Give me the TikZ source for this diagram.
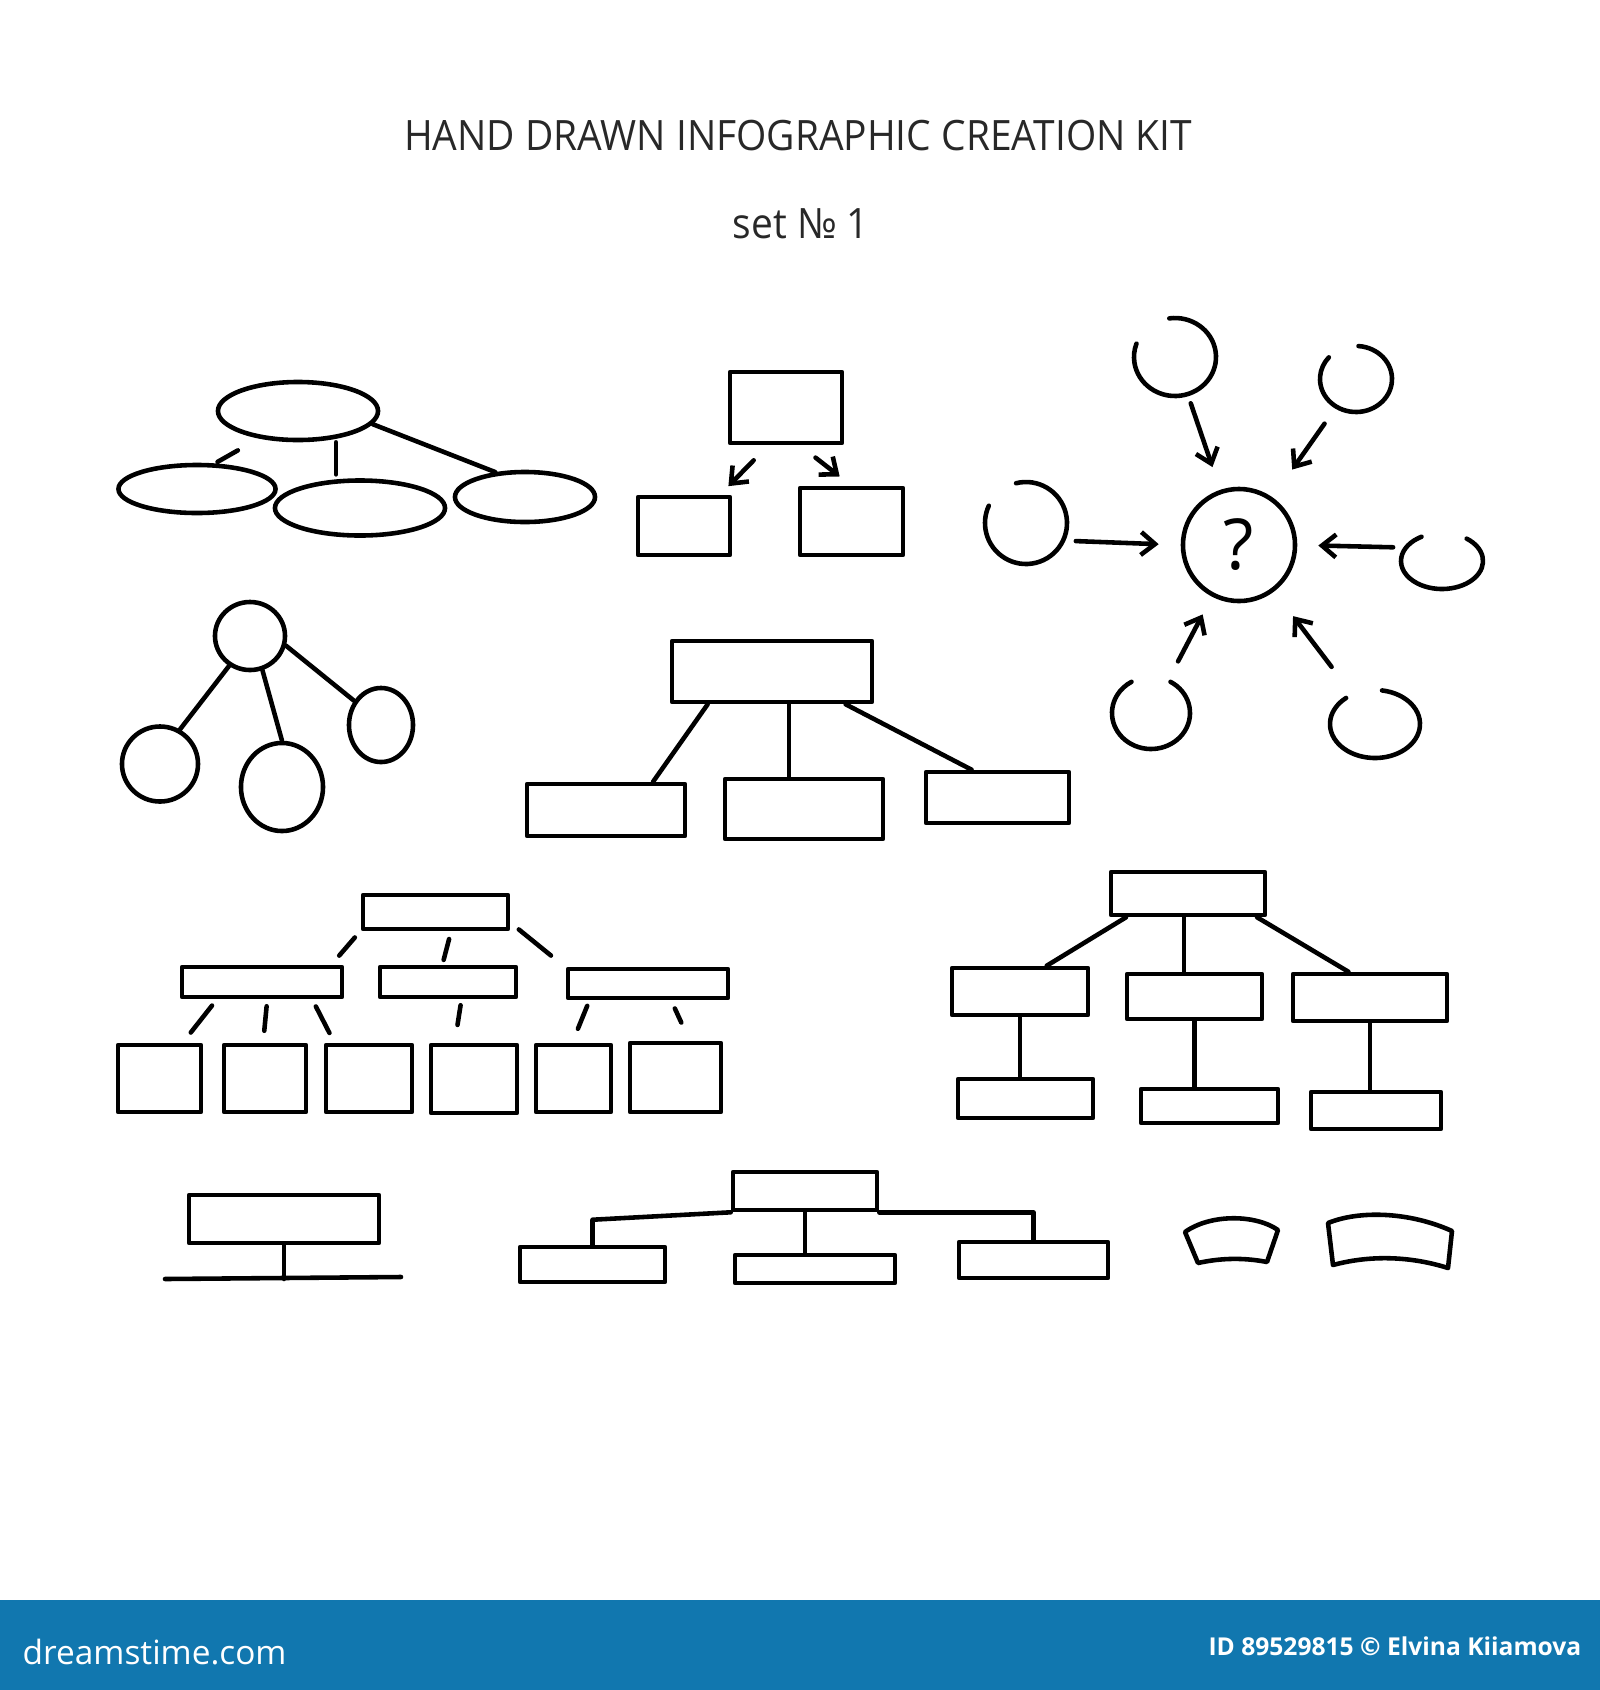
\documentclass[tikz,border=0pt]{standalone}
\usepackage{fontspec}
\setmainfont{Open Sans}
\newfontfamily\kitfont[FakeStretch=0.93]{Open Sans}
\usepackage{tikz}
\usetikzlibrary{arrows.meta}
\usetikzlibrary{shapes,fit}
\usepackage{xcolor}
\definecolor{bandblue}{RGB}{17,119,175}
\definecolor{inkgrey}{RGB}{40,40,40}

\tikzset{
  sketch/.style={line width=1.3pt, line cap=round, line join=round},
  box/.style={draw, sketch, rectangle, inner sep=0pt},
  bubble/.style={draw, sketch, ellipse, inner sep=0pt},
  hub/.style={draw, sketch, circle, inner sep=0pt},
  ring/.style={ellipse, inner sep=0pt},
  link/.style={sketch},
  pointer/.style={sketch, -{Straight Barb[length=4pt, width=6.5pt]}},
}

\begin{document}
\begin{tikzpicture}[x=0.01cm, y=-0.01cm]
      \useasboundingbox (0,0) rectangle (1600,1690);
      \fill[white] (0,0) rectangle (1600,1690);
      \fill[bandblue] (0,1600) rectangle (1600,1690);

      \node[inkgrey, font=\kitfont\fontsize{11.9}{14}\selectfont] (kit) at (798,136) {HAND DRAWN INFOGRAPHIC CREATION KIT};
      \node[inkgrey, font=\kitfont\fontsize{11.9}{14}\selectfont] (setno) at (801,224) {set № 1};

      \node[bubble, minimum width=1.6cm, minimum height=0.58cm] (e0) at (298,411) {};
      \node[bubble, minimum width=1.57cm, minimum height=0.48cm] (e1) at (197,489) {};
      \node[bubble, minimum width=1.7cm, minimum height=0.55cm] (e2) at (360,508) {};
      \node[bubble, minimum width=1.4cm, minimum height=0.5cm] (e3) at (525,497) {};
      \draw[link, shorten <=0.24cm, shorten >=0.03cm] (e0.215) -- (e1.55);
      \draw[link, shorten >=0.05cm] (e0.south -| e2.130) -- (e2.130);
      \draw[link] (e0.-10) -- (e3.140);

      \node[box, fit={(730,372) (842,443)}] (r0) {};
      \node[box, fit={(638,497) (730,555)}] (r1) {};
      \node[box, fit={(800,488) (903,555)}] (r2) {};
      \draw[pointer, shorten <=0.21cm, shorten >=0.12cm] (r0.-115) -- (r1.41);
      \draw[pointer, shorten <=0.2cm, shorten >=0.15cm] (r0.-70) -- (r2.north);

      \node[hub, minimum size=1.12cm, font=\fontsize{20}{24}\selectfont] (ask) at (1239,545) {?};
      \node[ring, minimum width=0.82cm, minimum height=0.78cm] (s1) at (1175,357) {};
      \node[ring, minimum width=0.72cm, minimum height=0.66cm] (s2) at (1356,379) {};
      \node[ring, minimum width=0.82cm, minimum height=0.82cm] (s3) at (1026,523) {};
      \node[ring, minimum width=0.82cm, minimum height=0.56cm] (s4) at (1442,561) {};
      \node[ring, minimum width=0.78cm, minimum height=0.72cm] (s5) at (1151,713) {};
      \node[ring, minimum width=0.9cm, minimum height=0.68cm] (s6) at (1375,724) {};
      \draw[sketch] (s1.center) ++(262:41 and 39) arc[start angle=262, delta angle=298, x radius=41, y radius=39];
      \draw[sketch] (s2.center) ++(274:36 and 33) arc[start angle=274, delta angle=307, x radius=36, y radius=33];
      \draw[sketch] (s3.center) ++(256:41 and 41) arc[start angle=256, delta angle=309, x radius=41, y radius=41];
      \draw[sketch] (s4.center) ++(307:41 and 28) arc[start angle=307, delta angle=293, x radius=41, y radius=28];
      \draw[sketch] (s5.center) ++(300:39 and 36) arc[start angle=300, delta angle=300, x radius=39, y radius=36];
      \draw[sketch] (s6.center) ++(279:45 and 34) arc[start angle=279, delta angle=311, x radius=45, y radius=34];
      \draw[pointer, shorten <=0.09cm, shorten >=0.24cm] (s1) -- (ask);
      \draw[pointer, shorten <=0.2cm, shorten >=0.34cm] (s2) -- (ask);
      \draw[pointer, shorten <=0.12cm, shorten >=0.22cm] (s3.-25) -- (ask.west);
      \draw[pointer, shorten <=0.12cm, shorten >=0.21cm] (s4.160) -- (ask.east);
      \draw[pointer, shorten <=0.21cm, shorten >=0.2cm] (s5) -- (ask);
      \draw[pointer, shorten <=0.34cm, shorten >=0.31cm] (s6) -- (ask);

      \node[bubble, minimum width=0.7cm, minimum height=0.68cm] (c0) at (250,636) {};
      \node[bubble, minimum width=0.76cm, minimum height=0.75cm] (c1) at (160,764) {};
      \node[bubble, minimum width=0.82cm, minimum height=0.88cm] (c2) at (282,787) {};
      \node[bubble, minimum width=0.64cm, minimum height=0.74cm] (c3) at (381,725) {};
      \draw[link] (c0.-125) -- (c1.60);
      \draw[link] (c0.-70) -- (c2.north);
      \draw[link] (c0.-15) -- (c3.138);

      \node[box, fit={(672,641) (872,702)}] (p0) {};
      \node[box, fit={(527,784) (685,836)}] (p1) {};
      \node[box, fit={(725,779) (883,839)}] (p2) {};
      \node[box, fit={(926,772) (1069,823)}] (p3) {};
      \draw[link] (p0.-153) -- (p1.31);
      \draw[link] (p0.south -| p2.115) -- (p2.115);
      \draw[link] (p0.-24) -- (p3.133);

      \node[box, fit={(363,895) (508,929)}] (a0) {};
      \node[box, fit={(182,967) (342,997)}] (b1) {};
      \node[box, fit={(380,967) (516,997)}] (b2) {};
      \node[box, fit={(568,969) (728,998)}] (b3) {};
      \node[box, fit={(118,1045) (201,1112)}] (d1) {};
      \node[box, fit={(224,1045) (306,1112)}] (d2) {};
      \node[box, fit={(326,1045) (412,1112)}] (d3) {};
      \node[box, fit={(431,1045) (517,1113)}] (d4) {};
      \node[box, fit={(536,1045) (611,1112)}] (d5) {};
      \node[box, fit={(630,1043) (721,1112)}] (d6) {};
      \draw[link, shorten <=0.09cm, shorten >=0.12cm] (a0.-166) -- (b1.14);
      \draw[link, shorten <=0.08cm, shorten >=0.05cm] (a0.-51) -- (b2.108);
      \draw[link, shorten <=0.11cm, shorten >=0.19cm] (a0.-8) -- (b3.169);
      \draw[link, shorten <=0.08cm, shorten >=0.13cm] (b1.-159) -- (d1.57);
      \draw[link, shorten <=0.07cm, shorten >=0.12cm] (b1.-73) -- (d2.93);
      \draw[link, shorten <=0.08cm, shorten >=0.11cm] (b1.-19) -- (d3.134);
      \draw[link, shorten <=0.06cm, shorten >=0.18cm] (b2.-52) -- (d4.118);
      \draw[link, shorten <=0.06cm, shorten >=0.15cm] (b3.-164) -- (d5.92);
      \draw[link, shorten <=0.09cm, shorten >=0.2cm] (b3.-36) -- (d6.69);

      \node[box, fit={(1111,872) (1265,915)}] (g0) {};
      \node[box, fit={(952,968) (1088,1015)}] (h1) {};
      \node[box, fit={(1127,974) (1262,1019)}] (h2) {};
      \node[box, fit={(1293,974) (1447,1021)}] (h3) {};
      \node[box, fit={(958,1079) (1093,1118)}] (k1) {};
      \node[box, fit={(1141,1089) (1278,1123)}] (k2) {};
      \node[box, fit={(1311,1092) (1441,1129)}] (k3) {};
      \draw[link] (g0.-159) -- (h1.44);
      \draw[link] (g0.south -| h2.113) -- (h2.113);
      \draw[link] (g0.-19) -- (h3.130);
      \draw[link] (h1.south) -- (h1.south |- k1.north);
      \draw[link] (h2.south) -- (h2.south |- k2.north);
      \draw[link] (h3.south) -- (h3.south |- k3.north);

      \node[box, fit={(189,1195) (379,1243)}] (m0) {};
      \coordinate (floor w) at (165,1279);
      \coordinate (floor e) at (401,1277);
      \draw[link] (floor w) -- (floor e);
      \draw[link] (m0.south) -- (m0.south |- floor w);

      \node[box, fit={(733,1172) (877,1210)}] (n0) {};
      \node[box, fit={(520,1247) (665,1282)}] (n1) {};
      \node[box, fit={(735,1255) (895,1283)}] (n2) {};
      \node[box, fit={(959,1242) (1108,1278)}] (n3) {};
      \draw[link] (n1.north) -- ++(0,-25) -- (n0.south west);
      \draw[link] (n0.south east) -| (n3.north);
      \draw[link] (n0.south) -- (n0.south |- n2.north);

      \draw[sketch] (1185,1232) -- (1198,1263) .. controls (1222,1257.7) and (1245,1257.7) .. (1267,1262)
            -- (1278,1230) .. controls (1255,1214) and (1210,1214) .. cycle;
      \draw[sketch] (1328,1223) .. controls (1360,1210) and (1410,1212) .. (1452,1231)
            -- (1448,1268) .. controls (1410,1256) and (1370,1255) .. (1333,1265) -- cycle;

      \node[anchor=west, inner sep=0pt, white, font=\fontsize{9.5}{12}\selectfont] (brand) at (22,1652) {dreamstime.com};
      \node[anchor=east, inner sep=0pt, white, font=\bfseries\fontsize{7}{9}\selectfont] (credit) at (1582,1646) {ID 89529815 © Elvina Kiiamova};
\end{tikzpicture}
\end{document}
